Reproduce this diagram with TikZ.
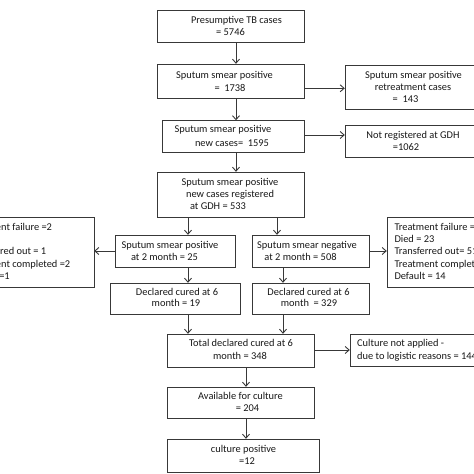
\documentclass[tikz,border=0pt]{standalone}
\usepackage{fontspec}
\setmainfont{Carlito}
\usetikzlibrary{arrows.meta}
\tikzset{
  box/.style={draw=black!78, line width=0.9pt, inner sep=0pt},
  txt/.style={inner sep=0pt, font=\fontsize{10.4}{12}\selectfont, text=black!90},
  arr/.style={draw=black!78, line width=0.9pt, -{Straight Barb[length=4pt,width=7pt]}}
}
\newcommand{\bx}[5]{\path[box] (#2,#3) rectangle (#4,#5); \node[inner sep=0pt, minimum width={(#4-#2)*1pt}, minimum height={(#5-#3)*1pt}] (#1) at ({(#2+#4)/2},{(#3+#5)/2}) {};}
\begin{document}
\begin{tikzpicture}[x=1pt,y=-1pt]
\useasboundingbox (0,0) rectangle (474,474);
\fill[white] (0,0) rectangle (474,474);
\clip (0,0) rectangle (474,474);
% boxes
\bx{b1}{157}{10.5}{304}{42}
\bx{b2}{157}{64}{304}{98}
\bx{b3}{162}{120.5}{304}{152}
\bx{b4}{157}{172}{304}{217}
\bx{r1}{345}{65}{480}{109}
\bx{r2}{345}{125}{480}{157}
\bx{b5l}{115}{235}{235}{267}
\bx{b5r}{252}{235}{369}{267}
\bx{lb}{-40}{217}{94}{287}
\bx{rb}{387}{217}{480}{287}
\bx{b6l}{110}{283}{240}{314}
\bx{b6r}{252}{283}{369}{314}
\bx{b7}{167}{334}{314}{367}
\bx{r3}{350}{334}{480}{366}
\bx{b8}{167}{387}{314}{418}
\bx{b9}{167}{439}{319}{472}
% texts
\node[txt,anchor=mid] (t1a) at (236.5,20.7) {Presumptive TB cases};
\node[txt,anchor=mid] (t1b) at (230.5,33.3) {= 5746};
\node[txt,anchor=mid] (t2a) at (224.5,76) {Sputum smear positive};
\node[txt,anchor=mid] (t2b) at (230,89) {= \ 1738};
\node[txt,anchor=mid] (t3a) at (223,130) {Sputum smear positive};
\node[txt,anchor=mid] (t3b) at (232,144) {new cases= \ 1595};
\node[txt,anchor=mid] (t4a) at (230,182.7) {Sputum smear positive};
\node[txt,anchor=mid] (t4b) at (230,195) {new cases registered};
\node[txt,anchor=mid] (t4c) at (218,207.3) {at GDH = 533};
\node[txt,anchor=mid] (tr1a) at (413.5,76) {Sputum smear positive};
\node[txt,anchor=mid] (tr1b) at (413,88) {retreatment cases};
\node[txt,anchor=mid] (tr1c) at (405.5,100) {= \ 143};
\node[txt,anchor=mid] (tr2a) at (413,135.7) {Not registered at GDH};
\node[txt,anchor=mid] (tr2b) at (406,147.7) {=1062};
\node[txt,anchor=mid] (t5la) at (170,245.7) {Sputum smear positive};
\node[txt,anchor=mid] (t5lb) at (164.5,257.7) {at 2 month = 25};
\node[txt,anchor=mid] (t5ra) at (307,245.7) {Sputum smear negative};
\node[txt,anchor=mid] (t5rb) at (300.5,257.7) {at 2 month = 508};
\node[txt,anchor=mid] (t6la) at (177,292.7) {Declared cured at 6};
\node[txt,anchor=mid] (t6lb) at (176,304.3) {month = 19};
\node[txt,anchor=mid] (t6ra) at (308.5,292.7) {Declared cured at 6};
\node[txt,anchor=mid] (t6rb) at (309,304.3) {month \ = 329};
\node[txt,anchor=mid] (t7a) at (241,344) {Total declared cured at 6};
\node[txt,anchor=mid] (t7b) at (240,357) {month = 348};
\node[txt,anchor=mid] (t8a) at (240.5,397) {Available for culture};
\node[txt,anchor=mid] (t8b) at (247.5,409) {= 204};
\node[txt,anchor=mid] (t9a) at (243.5,450) {culture positive};
\node[txt,anchor=mid] (t9b) at (247,462) {=12};
\node[txt,anchor=mid west] (tr3a) at (357,344) {Culture not applied -};
\node[txt,anchor=mid west] (tr3b) at (357,356.7) {due to logistic reasons = 144};
\node[txt,anchor=mid west] (tla) at (-34,227.7) {Treatment failure =2};
\node[txt,anchor=mid west] (tlc) at (-34,252.3) {Transferred out = 1};
\node[txt,anchor=mid west] (tld) at (-34,265) {Treatment completed =2};
\node[txt,anchor=mid west] (tle) at (-34,277.3) {Default =1};
\node[txt,anchor=mid west] (tra) at (394.3,227.7) {Treatment failure = 1};
\node[txt,anchor=mid west] (trb) at (394.3,240) {Died = 23};
\node[txt,anchor=mid west] (trc) at (394.3,252.3) {Transferred out= 51};
\node[txt,anchor=mid west] (trd) at (394.3,265) {Treatment completed = 90};
\node[txt,anchor=mid west] (tre) at (394.3,277.3) {Default = 14};
% arrow columns / rows
\coordinate (xa) at (236,0);
\coordinate (xb) at (188,0);
\coordinate (xc) at (277,0);
\coordinate (xd) at (283,0);
\coordinate (xe) at (246,0);
\coordinate (ya) at (0,88.3);
\coordinate (yb) at (0,135);
\coordinate (yc) at (0,251);
\coordinate (yd) at (0,350);
\draw[arr] (b1.south -| xa) -- (b2.north -| xa);
\draw[arr] (b2.south -| xa) -- (b3.north -| xa);
\draw[arr] (b3.south -| xa) -- (b4.north -| xa);
\draw[arr] (b4.south -| xb) -- (b5l.north -| xb);
\draw[arr] (b4.south -| xc) -- (b5r.north -| xc);
\draw[arr] (b5l.south -| xb) -- (b6l.north -| xb);
\draw[arr] (b5r.south -| xd) -- (b6r.north -| xd);
\draw[arr] (b6l.south -| xb) -- (b7.north -| xb);
\draw[arr] (b6r.south -| xd) -- (b7.north -| xd);
\draw[arr] (b7.south -| xe) -- (b8.north -| xe);
\draw[arr] (b8.south -| xe) -- (b9.north -| xe);
\draw[arr] (b2.east |- ya) -- (r1.west |- ya);
\draw[arr] (b3.east |- yb) -- (r2.west |- yb);
\draw[arr] (b5l.west |- yc) -- (lb.east |- yc);
\draw[arr] (b5r.east |- yc) -- (rb.west |- yc);
\draw[arr] (b7.east |- yd) -- (r3.west |- yd);
\end{tikzpicture}
\end{document}
